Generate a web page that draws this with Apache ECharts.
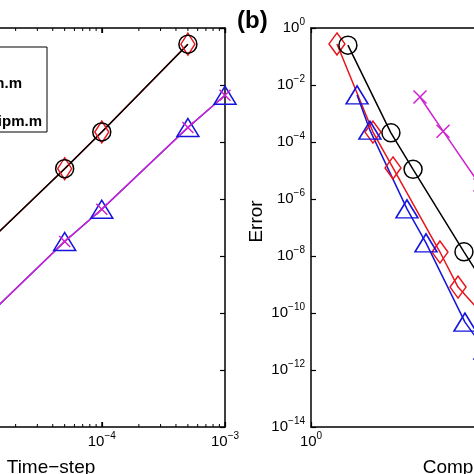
<!DOCTYPE html>
<html>
<head>
<meta charset="utf-8">
<script src="https://cdn.jsdelivr.net/npm/echarts@6/dist/echarts.min.js"></script>
<style>
  html, body { margin: 0; padding: 0; background: #fff; overflow: hidden; width: 474px; height: 474px; }
  /* the figure is cropped on the left and right, so the canvas is wider and shifted */
  #chart { position: absolute; left: -200px; top: 0; width: 900px; height: 474px; }
</style>
</head>
<body>
<div id="chart"></div>
<script>
// panel (a): error vs time-step
const dtBlackA = [1e-5, 5e-5, 1e-4, 5e-4]
const errBlackA = [1.2e-5, 3.4e-4, 1.5e-3, 5.2e-2]
const dtRedA = [1e-5, 5e-5, 1e-4, 5e-4]
const errRedA = [1.2e-5, 3.4e-4, 1.5e-3, 5.2e-2]
const dtBlueA = [1e-5, 5e-5, 1e-4, 5e-4, 1e-3]
const errBlueA = [6.2e-7, 1.8e-5, 6.6e-5, 1.8e-3, 6.6e-3]
const dtMagA = [1e-5, 5e-5, 1e-4, 5e-4, 1e-3]
const errMagA = [6.2e-7, 1.8e-5, 6.6e-5, 1.8e-3, 6.6e-3]

// panel (b): error vs computing time
const timeBlackB = [1.63, 2.88, 3.86, 7.57, 11.5]
const errBlackB = [2.5e-1, 2.1e-4, 1.1e-5, 1.4e-8, 2.5e-10]
const timeRedB = [1.41, 2.27, 2.96, 5.51, 7.0, 10]
const errRedB = [2.75e-1, 2.24e-4, 1.23e-5, 1.38e-8, 8.1e-10, 7.2e-11]
const timeBlueB = [1.84, 2.18, 3.56, 4.58, 7.67, 10]
const errBlueB = [4.5e-3, 2.6e-4, 4.5e-7, 2.9e-8, 4.8e-11, 5e-12]
const timeMagB = [4.23, 5.74, 9.36]
const errMagB = [3.8e-3, 2.4e-4, 3.1e-6]

const names = ['etd.m', 'lawson.m', 'rk4.m', 'cfree_ipm.m']

const FONT = 'Liberation Sans'
const BLACK = '#000000', RED = '#e8141c', BLUE = '#1414dc', MAG = '#d022d0'

const DT_MIN = 1.5e-6, DT_MAX = 1e-3
const ERR_MIN_A = 1e-8, ERR_MAX_A = 1e-1

// tick positions on the time-step axis: [value, tick length]
const ticksA = []
for (let d = -6; d <= -3; d++) {
  for (let k = 1; k <= 9; k++) {
    const v = k * Math.pow(10, d)
    if (v > DT_MIN && v <= DT_MAX) ticksA.push([v, k === 1 ? 5 : 3, 1e-4])
  }
}

const pair = (xs, ys) => xs.map((x, i) => [x, ys[i]])

function pow10 (v) {
  const e = Math.round(Math.log10(v))
  return '{b|10}{s|' + (e < 0 ? '\u2212' + (-e) : e) + '}'
}
const rich = {
  b: { fontSize: 15, lineHeight: 20, fontFamily: FONT, color: '#000' },
  s: { fontSize: 10, lineHeight: 10, fontFamily: FONT, color: '#000', padding: [0, 0, 12, 0] }
}

const lineAx = { show: true, lineStyle: { color: '#000', width: 1.5 } }
const nameStyle = { fontSize: 19, fontFamily: FONT, color: '#000' }
const majorTick = { show: true, inside: true, length: 5, lineStyle: { color: '#000', width: 1.2 } }

function tickAxis (extra) {
  return Object.assign({
    type: 'log', logBase: 10,
    axisLine: lineAx,
    axisTick: majorTick,
    axisLabel: { show: false },
    splitLine: { show: false },
    minorTick: { show: false },
    silent: true
  }, extra)
}

const xAxis = [
  // panel (a) bottom
  tickAxis({
    gridIndex: 0, position: 'bottom', min: DT_MIN, max: DT_MAX,
    axisLabel: { show: true, formatter: pow10, rich: rich, margin: 5 },
    name: 'Time\u2212step', nameLocation: 'middle', nameGap: 22, nameTextStyle: nameStyle
  }),
  // panel (a) top
  tickAxis({ gridIndex: 0, position: 'top', min: DT_MIN, max: DT_MAX }),
  // panel (b) bottom and top
  tickAxis({
    gridIndex: 1, position: 'bottom', min: 1, max: 100,
    axisLabel: { show: true, formatter: pow10, rich: rich, margin: 5 },
    name: 'Comp. time (s)', nameLocation: 'middle', nameGap: 22, nameTextStyle: nameStyle
  }),
  tickAxis({ gridIndex: 1, position: 'top', min: 1, max: 100 })
]

const yAxis = [
  tickAxis({
    gridIndex: 0, position: 'left', min: ERR_MIN_A, max: ERR_MAX_A, interval: 1,
    axisLabel: { show: true, formatter: pow10, rich: rich, margin: 6 }
  }),
  tickAxis({ gridIndex: 0, position: 'right', min: ERR_MIN_A, max: ERR_MAX_A, interval: 1 }),
  tickAxis({
    gridIndex: 1, position: 'left', min: 1e-14, max: 1, interval: 2,
    axisLabel: { show: true, formatter: pow10, rich: rich, margin: 6 },
    name: 'Error', nameLocation: 'middle', nameGap: 45,
    nameTextStyle: Object.assign({ padding: [0, 0, 0, 12] }, nameStyle)
  }),
  tickAxis({ gridIndex: 1, position: 'right', min: 1e-14, max: 1, interval: 2 })
]

function mk (name, data, color, symbol, size, xi, yi) {
  return {
    name: name, type: 'line', data: data,
    xAxisIndex: xi, yAxisIndex: yi,
    symbol: symbol, symbolSize: size, showAllSymbol: true,
    lineStyle: { color: color, width: 1.5 },
    itemStyle: { color: 'transparent', borderColor: color, borderWidth: 1.5 },
    emphasis: { disabled: true }
  }
}
const XSYM = 'path://M0,0L10,10M10,0L0,10'

// log-spaced tick marks on the top and bottom edge of panel (a)
const tickSeries = {
  type: 'custom', xAxisIndex: 0, yAxisIndex: 0, silent: true, z: 6,
  data: ticksA, encode: { x: 0, y: 2 }, clip: false,
  renderItem: function (params, api) {
    const x = api.value(0), len = api.value(1)
    const b = api.coord([x, ERR_MIN_A]), t = api.coord([x, ERR_MAX_A])
    const st = { stroke: '#000', lineWidth: 1 }
    return {
      type: 'group',
      children: [
        { type: 'line', shape: { x1: b[0], y1: b[1], x2: b[0], y2: b[1] - len }, style: st },
        { type: 'line', shape: { x1: t[0], y1: t[1], x2: t[0], y2: t[1] + len }, style: st }
      ]
    }
  }
}

const series = [
  mk(names[1], pair(dtRedA, errRedA), RED, 'diamond', [14, 22], 0, 0),
  mk(names[0], pair(dtBlackA, errBlackA), BLACK, 'circle', 18, 0, 0),
  mk(names[2], pair(dtBlueA, errBlueA), BLUE, 'triangle', [22, 18], 0, 0),
  mk(names[3], pair(dtMagA, errMagA), MAG, XSYM, 11, 0, 0),
  mk(names[1], pair(timeRedB, errRedB), RED, 'diamond', [16, 22], 2, 2),
  mk(names[0], pair(timeBlackB, errBlackB), BLACK, 'circle', 18, 2, 2),
  mk(names[2], pair(timeBlueB, errBlueB), BLUE, 'triangle', [22, 18], 2, 2),
  mk(names[3], pair(timeMagB, errMagB), MAG, XSYM, 13, 2, 2),
  tickSeries
]

const chart = echarts.init(document.getElementById('chart'))
chart.setOption({
  animation: false,
  backgroundColor: '#ffffff',
  textStyle: { fontFamily: FONT },
  grid: [
    { left: 77, top: 28, width: 348, height: 399, containLabel: false, outerBoundsMode: 'none' },
    { left: 511, top: 28, width: 348, height: 399, containLabel: false, outerBoundsMode: 'none' }
  ],
  xAxis: xAxis,
  yAxis: yAxis,
  legend: {
    data: names,
    orient: 'vertical',
    right: 653, top: 47,
    padding: [10, 5, 3, 8],
    itemGap: 4, itemWidth: 30, itemHeight: 14,
    backgroundColor: '#fff', borderColor: '#000', borderWidth: 1,
    textStyle: { fontSize: 15, fontWeight: 'bold', fontFamily: FONT, color: '#000', lineHeight: 14 },
    selectedMode: false
  },
  graphic: [
    { type: 'text', left: 437, top: 9, style: { text: '(b)', font: 'bold 24px "Liberation Sans"', fill: '#000' } }
  ],
  series: series
})
</script>
</body>
</html>
